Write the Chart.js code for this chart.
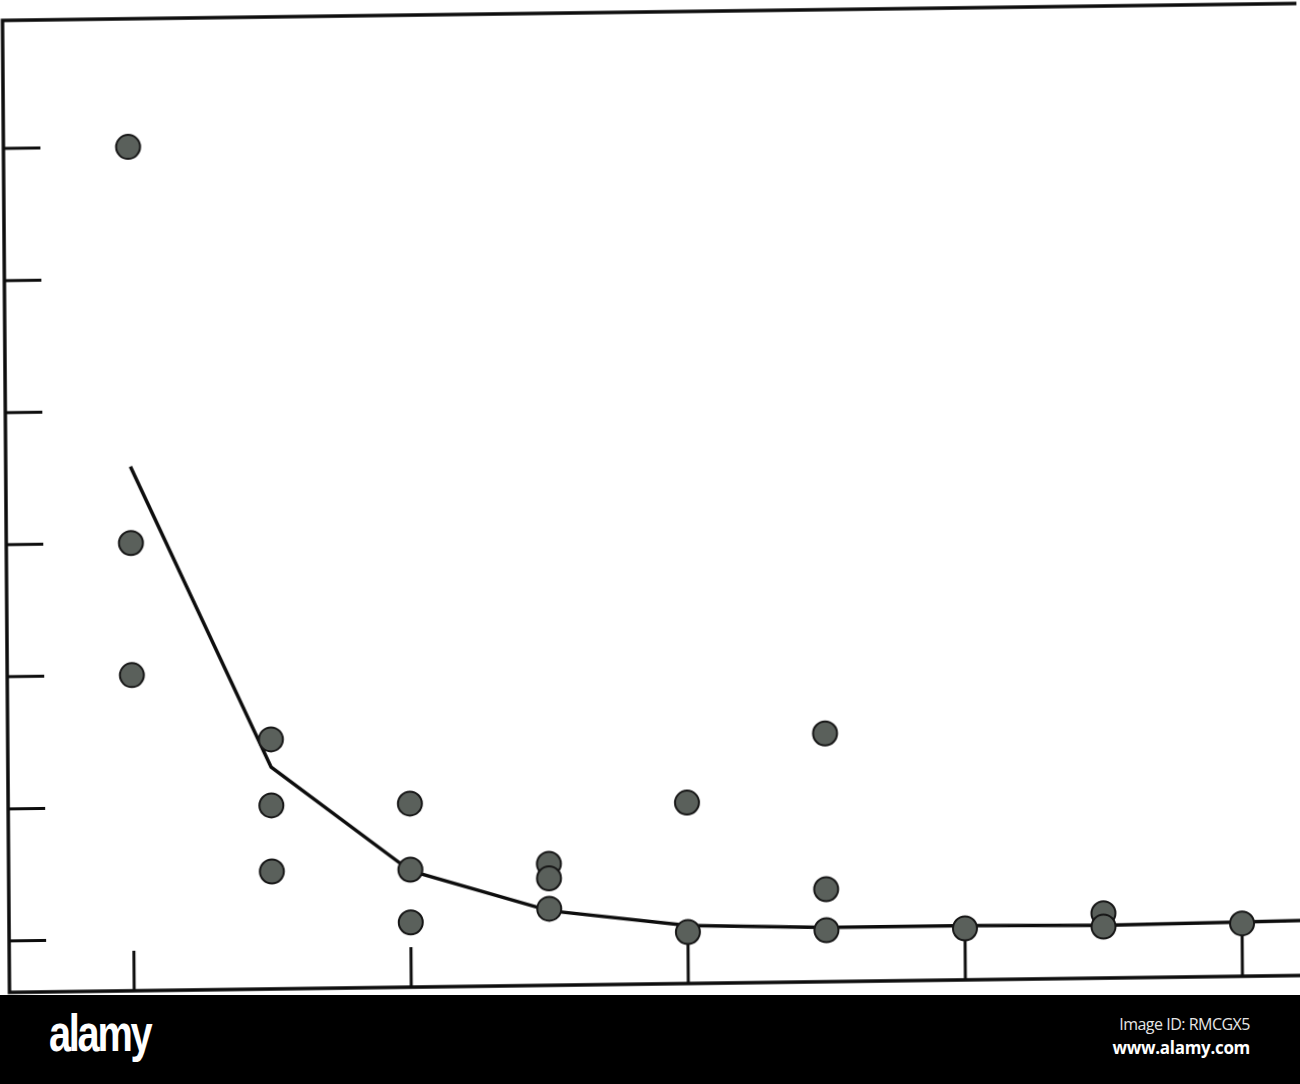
<!DOCTYPE html>
<html>
<head>
<meta charset="utf-8">
<script src="https://cdn.jsdelivr.net/npm/chart.js@4.4.1/dist/chart.umd.min.js"></script>
<style>
    html, body {margin: 0; padding: 0; background: #fff; overflow: hidden;}
    #wrap {position: relative; width: 1300px; height: 1084px;}
    /* scanned page is slightly skewed */
    #plot {position: absolute; left: 0; top: 0; transform: matrix(1, -0.0131, 0.0072, 1, 0, 0); transform-origin: 650px 497px;}
    #banner {position: absolute; left: 0; top: 995px; width: 1300px; height: 89px; background: #000;}
    #logo {position: absolute; left: 49px; top: 8px; color: #fff; font-family: "Liberation Sans Narrow", "Liberation Sans", sans-serif;
        font-weight: bold; font-size: 52px; letter-spacing: -3px; transform: scaleX(0.765); transform-origin: left top;}
    #imgid {position: absolute; right: 50px; top: 18px; color: #e6e6e6; font-family: "Open Sans", sans-serif; font-size: 16px; letter-spacing: -0.5px;}
    #site {position: absolute; right: 50px; top: 41px; color: #fff; font-family: "Open Sans", sans-serif; font-size: 17px; font-weight: bold; letter-spacing: -0.3px;}
</style>
</head>
<body>
<div id="wrap">
    <canvas id="plot" width="1300" height="995"></canvas>
    <div id="banner">
        <div id="logo">alamy</div>
        <div id="imgid">Image ID: RMCGX5</div>
        <div id="site">www.alamy.com</div>
    </div>
</div>
<script>
// measured points (x index, value)
const pointX = [0, 0, 0, 1, 1, 1, 2, 2, 2, 3, 3, 3, 4, 4, 5, 5, 5, 6, 7, 7, 8];
const pointY = [6.0, 3.0, 2.0, 1.5, 1.0, 0.5, 1.0, 0.5, 0.1, 0.53, 0.42, 0.19, 0.98, 0.0, 1.49, 0.31, 0.0, 0.0, 0.1, 0.0, 0.01];

// fitted curve
const lineX = [0, 1, 2, 3, 4, 5, 6, 7, 8, 8.6];
const lineY = [3.58, 1.29, 0.49, 0.175, 0.05, 0.02, 0.02, 0.01, 0.02, 0.03];

const xTicks = [0, 2, 4, 6, 8];
const yTicks = [0, 1, 2, 3, 4, 5, 6];

const frame = {
    id: 'frame',
    beforeDatasetsDraw(chart) {
        const ctx = chart.ctx;
        const a = chart.chartArea;
        const xs = chart.scales.x, ys = chart.scales.y;
        ctx.save();
        ctx.strokeStyle = '#0d0d0d';
        ctx.lineCap = 'butt';
        // box
        ctx.lineWidth = 3.5;
        ctx.beginPath();
        ctx.moveTo(a.right + 5, a.top);
        ctx.lineTo(a.left, a.top);
        ctx.lineTo(a.left, a.bottom);
        ctx.lineTo(a.right + 5, a.bottom);
        ctx.stroke();
        // inward ticks
        ctx.lineWidth = 3;
        yTicks.forEach(v => {
            const y = ys.getPixelForValue(v);
            ctx.beginPath();
            ctx.moveTo(a.left, y);
            ctx.lineTo(a.left + 37, y);
            ctx.stroke();
        });
        xTicks.forEach(v => {
            const x = xs.getPixelForValue(v);
            ctx.beginPath();
            ctx.moveTo(x, a.bottom);
            ctx.lineTo(x, a.bottom - 40);
            ctx.stroke();
        });
        ctx.restore();
    }
};

new Chart(document.getElementById('plot').getContext('2d'), {
    type: 'scatter',
    data: {
        datasets: [{
            label: 'obs',
            data: pointX.map((x, i) => ({x: x, y: pointY[i]})),
            pointRadius: 12,
            pointBackgroundColor: '#5a605b',
            pointBorderColor: '#161616',
            pointBorderWidth: 2,
            showLine: false,
            order: 1
        }, {
            label: 'fit',
            data: lineX.map((x, i) => ({x: x, y: lineY[i]})),
            showLine: true,
            borderColor: '#0d0d0d',
            borderWidth: 3.5,
            pointRadius: 0,
            tension: 0,
            order: 2
        }]
    },
    options: {
        responsive: false,
        animation: false,
        layout: {autoPadding: false, padding: {left: 6, top: 12, right: 0, bottom: 11}},
        plugins: {legend: {display: false}, tooltip: {enabled: false}},
        scales: {
            x: {type: 'linear', min: -0.9, max: 8.44, display: false},
            y: {type: 'linear', min: -0.39, max: 6.97, display: false}
        }
    },
    plugins: [frame]
});
</script>
</body>
</html>
